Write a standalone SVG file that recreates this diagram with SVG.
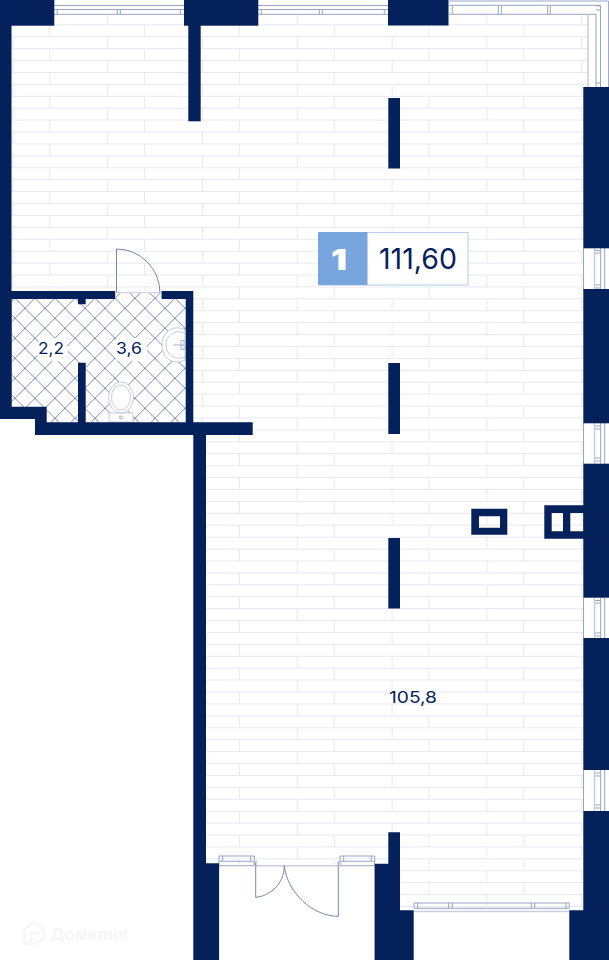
<svg xmlns="http://www.w3.org/2000/svg" width="609" height="960" viewBox="0 0 609 960">
<style>
.w{fill:#05215c}
.l{fill:none;stroke:#97a3c1;stroke-width:1}
.f{fill:none;stroke:#c9cfe0;stroke-width:1.6}
.d{fill:none;stroke:#7887ab;stroke-width:1}
.s{fill:none;stroke:#c5cbdd;stroke-width:1}
text{font-family:Inter,"Noto Sans",sans-serif;fill:#05215c}
</style>
<defs>
<pattern id="brick" patternUnits="userSpaceOnUse" x="49.3" y="24.3" width="94.8" height="23.83">
<path d="M0 .5H94.8M0 12.4H94.8M.5 0V11.9M58.5 11.9V23.83" fill="none" stroke="#e6e8f0" stroke-width="1"/>
</pattern>
<pattern id="tile" patternUnits="userSpaceOnUse" x="25" y="328.3" width="20" height="20">
<path d="M0 0L20 20M20 0L0 20" fill="none" stroke="#7f8db2" stroke-width="1"/>
</pattern>
</defs>
<rect width="609" height="960" fill="#fff"/>
<g id="floor">
<path d="M11 14H588V87H583.3V908H400V864H206V435H193V291H11Z" fill="url(#brick)"/>
<path d="M11.5 299H115V293H162V299H185.7V422H47V407H11.5Z" fill="#fff"/>
<path d="M11.5 299H115V293H162V299H185.7V422H47V407H11.5Z" fill="url(#tile)"/>
<path d="M34 349L41 338H62L69 349L62 361H41Z" fill="#fff"/>
<path d="M110 349L117 338H141L148 349L141 361H117Z" fill="#fff"/>
</g>
<g id="windows">
<path class="l" d="M54 5.5H184M54 9.5H184M54 14.3H184M57.3 9.5V14M117.3 9.5V14M120.3 9.5V14M180.3 9.5V14"/>
<path class="l" d="M258 5.5H388M258 9.5H388M258 14.3H388M261.3 9.5V14M319.3 9.5V14M322.3 9.5V14M384.3 9.5V14"/>
<path class="l" d="M449 1H608.6V87M449 5.3H600.5V87M449 14.3H596V87M452.3 5.3V14M498.3 5.3V14M501.3 5.3V14M547.7 5.3V14M550.3 5.3V14M596 6H600.5V10H596M596 83H600.5"/>
<path class="f" d="M588 14.5V87"/>
<path class="l" d="M583.5 248V290M600.7 248V290M604.7 248V290M594.5 250.5H600.7M594.5 253H600.7M594.5 285H600.7M594.5 288H600.7"/>
<path class="f" d="M594.5 248V290"/>
<path class="l" d="M583.5 423V464M600.7 423V464M604.7 423V464M594.5 426H600.7M594.5 429H600.7M594.5 458H600.7M594.5 461H600.7"/>
<path class="f" d="M594.5 423V464"/>
<path class="l" d="M583.5 598V638M600.7 598V638M604.7 598V638M594.5 600.5H600.7M594.5 603H600.7M594.5 633H600.7M594.5 636H600.7"/>
<path class="f" d="M594.5 598V638"/>
<path class="l" d="M583.5 770V811M600.7 770V811M604.7 770V811M594.5 773H600.7M594.5 776H600.7M594.5 805H600.7M594.5 808H600.7"/>
<path class="f" d="M594.5 770V811"/>
<path class="l" d="M414 903H569.3M414 908.3H569.3M414 903V908M417.7 903V908M448.7 903V908M452.3 903V908M531.3 903V908M534.7 903V908M566 903V908M569.3 903V908"/>
<path class="f" d="M414 911.5H569.3"/>
<path class="l" d="M219 856H254.3V865.7H219ZM219 861.3H254.3M222.7 856V861M250.7 856V861"/>
<path class="l" d="M340 856H374.7V865.7H340ZM340 861.3H374.7M343.7 856V861M371.3 856V861"/>
<path class="f" d="M254.5 865.7H340"/>
<path class="s" d="M219 866V960M374.7 866V960"/>
</g>
<g id="doors">
<path class="d" d="M116.5 293V249A43.5 44 0 0 1 160 293"/>
<path class="s" d="M116.5 292.7H160M115.5 292V298M161.5 292V298"/>
<path class="d" d="M255.7 862V897.3C270 896 284.3 884 284.3 865.7C287 892 312 916.3 338.3 916.3V862"/>
<rect x="253.7" y="861" width="3" height="5" class="s"/>
<rect x="338" y="861" width="3" height="5" class="s"/>
</g>
<g id="fixtures">
<path d="M185 329.5C172 324 162 333 162 345S172 366 185 360Z" fill="#fff" stroke="#c5cbdd"/>
<path d="M185 333C175 329 166 335 166 345S175 361 185 357" fill="none" stroke="#c5cbdd"/>
<path d="M173.5 345H184M181 340.5H184V349.5H181Z" fill="none" stroke="#a3aeca"/>
<rect x="109" y="413" width="24" height="9" fill="#fff" stroke="#c5cbdd"/>
<circle cx="121" cy="417.5" r="1.5" fill="none" stroke="#a3aeca"/>
<ellipse cx="121" cy="397.5" rx="12.5" ry="15.5" fill="#fff" stroke="#c5cbdd"/>
<ellipse cx="121" cy="397.5" rx="9.5" ry="12.5" fill="none" stroke="#c5cbdd"/>
</g>
<g id="walls">
<rect class="w" x="0" y="0" width="54.3" height="25.7"/>
<rect class="w" x="0" y="0" width="11.5" height="419"/>
<rect class="w" x="184" y="0" width="74.3" height="25.7"/>
<rect class="w" x="188.3" y="0" width="12.4" height="121.3"/>
<rect class="w" x="388" y="0" width="60.5" height="25.5"/>
<rect class="w" x="388.3" y="98" width="11.7" height="70.5"/>
<rect class="w" x="388.3" y="363" width="11.7" height="71"/>
<rect class="w" x="388.3" y="538" width="11.7" height="70.5"/>
<rect class="w" x="583.3" y="87" width="25.7" height="161.3"/>
<rect class="w" x="583.3" y="289" width="25.7" height="134.3"/>
<rect class="w" x="583.3" y="463.7" width="25.7" height="134"/>
<rect class="w" x="583.3" y="638" width="25.7" height="132"/>
<path class="w" d="M583.3 811H609V960H569.3V910.3H583.3Z"/>
<path class="w" d="M0 291H115V299H85.7V304.3H78V299H11.5V406.7H46.7V422.3H78V362.7H85.7V422.3H185.7V299H161.7V291H193.3V422.3H252.7V435H206V863.3H219V960H193.3V435H35V419H0Z"/>
<path class="w" d="M388.3 832.3H400V910.3H413.7V960H374.7V863.7H388.3Z"/>
<path class="w" fill-rule="evenodd" d="M471.3 508.7H507.3V534.7H471.3ZM479 516.3V527.7H500V516.3Z" />
<path class="w" fill-rule="evenodd" d="M544.3 505.3H584V538.7H544.3ZM551.7 513V531.3H563V513ZM570.3 513V531.3H583.5V513Z"/>
</g>
<g id="legend">
<rect x="318.5" y="232.5" width="149.5" height="52.5" fill="#fff" stroke="#b5cdee"/>
<rect x="318" y="232" width="49.5" height="53" fill="#78a5de"/>
<text x="331" y="270" font-size="29" font-weight="900" textLength="16" lengthAdjust="spacingAndGlyphs" style="fill:#fff">1</text>
<text x="379" y="269.3" font-size="28" textLength="78" lengthAdjust="spacingAndGlyphs">111,60</text>
</g>
<g id="labels">
<text x="38" y="354" font-size="16.5" textLength="26" lengthAdjust="spacingAndGlyphs">2,2</text>
<text x="116" y="354" font-size="16.5" textLength="26" lengthAdjust="spacingAndGlyphs">3,6</text>
<text x="389" y="702.7" font-size="16.5" textLength="48" lengthAdjust="spacingAndGlyphs">105,8</text>
</g>
<g id="watermark">
<path d="M24 930L34 922L44 930V938L36 944H26L24 942ZM31 942V933H39" fill="none" stroke="#f6f6f6" stroke-width="2.5"/>
<text x="50" y="940" font-size="15.5" font-weight="700" textLength="78" lengthAdjust="spacingAndGlyphs" style="fill:#f6f6f6">Домклик</text>
</g>
</svg>
